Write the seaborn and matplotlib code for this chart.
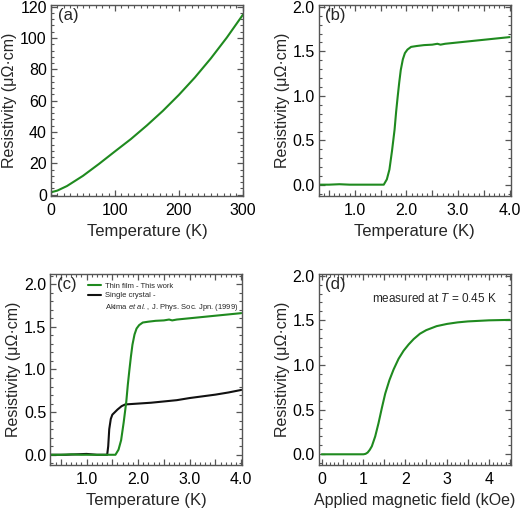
import numpy as np
import pandas as pd
import matplotlib
matplotlib.use("Agg")
import matplotlib.pyplot as plt
import seaborn as sns
from matplotlib.ticker import MultipleLocator, FuncFormatter
from matplotlib.lines import Line2D

# ---------------- data ----------------
# (a) resistivity vs temperature, 0-300 K
T_a = [0, 10, 25, 50, 75, 100, 125, 150, 175, 200, 225, 250, 275, 300]
rho_a = [1.5, 2.6, 5.5, 12.0, 19.6, 27.6, 35.5, 44.2, 53.5, 63.7, 74.8, 87.0, 100.3, 114.8]

# (b)/(c) thin film, low temperature
T_film = [0.3, 0.5, 0.7, 0.9, 1.1, 1.3, 1.5, 1.56, 1.62, 1.67, 1.72, 1.77, 1.80,
          1.83, 1.86, 1.89, 1.93, 1.97, 2.02, 2.09, 2.2, 2.34, 2.5, 2.6, 2.66,
          2.75, 3.0, 3.25, 3.5, 3.75, 4.0]
rho_film = [0.0, 0.0, 0.005, 0.0, 0.0, 0.0, 0.0, 0.0, 0.06, 0.17, 0.38, 0.62, 0.82,
            0.99, 1.15, 1.29, 1.41, 1.48, 1.52, 1.55, 1.56, 1.57, 1.575, 1.585, 1.575,
            1.585, 1.60, 1.615, 1.63, 1.645, 1.66]

# (c) single crystal (Akima et al.)
T_xtal = [0.3, 0.6, 0.8, 1.0, 1.2, 1.4, 1.42, 1.44, 1.47, 1.5, 1.55, 1.6, 1.68,
          1.75, 2.0, 2.25, 2.5, 2.75, 3.0, 3.25, 3.5, 3.75, 4.0]
rho_xtal = [0.0, 0.0, 0.005, 0.01, 0.0, 0.0, 0.1, 0.3, 0.42, 0.47, 0.5, 0.53, 0.57,
            0.59, 0.60, 0.61, 0.625, 0.64, 0.665, 0.685, 0.705, 0.73, 0.76]

# (d) resistivity vs applied field at 0.45 K
H_d = [0.0, 0.5, 1.0, 1.05, 1.1, 1.15, 1.2, 1.28, 1.36, 1.44, 1.52, 1.62, 1.72,
       1.84, 1.96, 2.08, 2.2, 2.35, 2.5, 2.75, 3.0, 3.25, 3.5, 4.0, 4.5]
rho_d = [0.0, 0.0, 0.0, 0.005, 0.02, 0.05, 0.09, 0.2, 0.35, 0.52, 0.68, 0.83, 0.95,
         1.07, 1.16, 1.23, 1.29, 1.35, 1.39, 1.435, 1.46, 1.477, 1.488, 1.50, 1.505]

panel_tags = ["(a)", "(b)", "(c)", "(d)"]
ylabel = "Resistivity (μΩ·cm)"
legend_labels = ["Thin film - This work", "Single crystal -",
                 r"Akima $et\ al.,$ J. Phys. Soc. Jpn. (1999)"]

GREEN = "#1f8a1f"
BLACK = "#111111"
SPINE = "#555555"

# ---------------- style ----------------
sns.set_theme(style="ticks")
plt.rcParams["font.family"] = ["Liberation Sans", "DejaVu Sans"]
plt.rcParams["mathtext.fontset"] = "custom"
plt.rcParams["mathtext.rm"] = "Liberation Sans"
plt.rcParams["mathtext.it"] = "Liberation Sans:italic"

fig = plt.figure(figsize=(5.2, 5.11), dpi=100)
W, H = 0.369, 0.374
ax_a = fig.add_axes([0.098, 0.616, W, H])
ax_b = fig.add_axes([0.613, 0.616, W, H])
ax_c = fig.add_axes([0.097, 0.090, W, H])
ax_d = fig.add_axes([0.613, 0.090, W, H])

df_a = pd.DataFrame({"T": T_a, "rho": rho_a})
df_f = pd.DataFrame({"T": T_film, "rho": rho_film})
df_x = pd.DataFrame({"T": T_xtal, "rho": rho_xtal})
df_d = pd.DataFrame({"H": H_d, "rho": rho_d})

LW = 1.5
sns.lineplot(data=df_a, x="T", y="rho", ax=ax_a, color=GREEN, lw=LW, estimator=None, sort=False)
sns.lineplot(data=df_f, x="T", y="rho", ax=ax_b, color=GREEN, lw=LW, estimator=None, sort=False)
sns.lineplot(data=df_x, x="T", y="rho", ax=ax_c, color=BLACK, lw=LW, estimator=None, sort=False)
sns.lineplot(data=df_f, x="T", y="rho", ax=ax_c, color=GREEN, lw=LW, estimator=None, sort=False)
sns.lineplot(data=df_d, x="H", y="rho", ax=ax_d, color=GREEN, lw=LW, estimator=None, sort=False)

TICK_FS = 11.5
XL_FS = 12
YL_FS = 11.5

def style(ax):
    for s in ax.spines.values():
        s.set_visible(True)
        s.set_color(SPINE)
        s.set_linewidth(1.0)
    ax.tick_params(which="both", direction="in", top=True, right=True,
                   color=SPINE, labelsize=TICK_FS, labelcolor="black")
    ax.tick_params(which="major", length=4.5, width=0.9)
    ax.tick_params(which="minor", length=2.5, width=0.8)
    ax.tick_params(axis="x", pad=5)
    ax.tick_params(axis="y", pad=3)
    ax.set_ylabel(ylabel, fontsize=YL_FS, labelpad=2)

def int_label(fmt):
    def f(v, p):
        if abs(v - round(v)) < 1e-6:
            return fmt.format(v)
        return ""
    return FuncFormatter(f)

# (a)
ax_a.set_xlim(0, 300)
ax_a.set_ylim(-1, 121)
ax_a.xaxis.set_major_locator(MultipleLocator(100))
ax_a.xaxis.set_minor_locator(MultipleLocator(10))
ax_a.yaxis.set_major_locator(MultipleLocator(20))
ax_a.yaxis.set_minor_locator(MultipleLocator(4))
style(ax_a)
ax_a.set_xlabel("Temperature (K)", fontsize=XL_FS)

# (b), (c)
for ax, ylim in ((ax_b, (-0.13, 2.02)), (ax_c, (-0.12, 2.12))):
    ax.set_xlim(0.3, 4.02)
    ax.set_ylim(*ylim)
    ax.xaxis.set_major_locator(MultipleLocator(0.5))
    ax.xaxis.set_minor_locator(MultipleLocator(0.1))
    ax.xaxis.set_major_formatter(int_label("{:.1f}"))
    ax.yaxis.set_major_locator(MultipleLocator(0.5))
    ax.yaxis.set_minor_locator(MultipleLocator(0.1))
    ax.yaxis.set_major_formatter(FuncFormatter(lambda v, p: f"{v:.1f}"))
    style(ax)
    ax.set_xlabel("Temperature (K)", fontsize=XL_FS)

# (d)
ax_d.set_xlim(-0.07, 4.52)
ax_d.set_ylim(-0.12, 2.02)
ax_d.xaxis.set_major_locator(MultipleLocator(0.5))
ax_d.xaxis.set_minor_locator(MultipleLocator(0.1))
ax_d.xaxis.set_major_formatter(int_label("{:.0f}"))
ax_d.yaxis.set_major_locator(MultipleLocator(0.5))
ax_d.yaxis.set_minor_locator(MultipleLocator(0.1))
ax_d.yaxis.set_major_formatter(FuncFormatter(lambda v, p: f"{v:.1f}"))
style(ax_d)
ax_d.set_xlabel("Applied magnetic field (kOe)", fontsize=11.5)
ax_d.text(0.93, 0.87, r"measured at $T$ = 0.45 K", transform=ax_d.transAxes,
          ha="right", va="center", fontsize=8.5)

# panel tags
for ax, tag in zip((ax_a, ax_b, ax_c, ax_d), panel_tags):
    ax.text(0.035, 0.985, tag, transform=ax.transAxes, ha="left", va="top", fontsize=12)

# legend in (c)
handles = [Line2D([], [], color=GREEN, lw=LW),
           Line2D([], [], color=BLACK, lw=LW),
           Line2D([], [], color="none", lw=LW)]
ax_c.legend(handles, legend_labels, loc="upper left", bbox_to_anchor=(0.195, 0.955),
            frameon=False, fontsize=5.5, handlelength=1.7, handletextpad=0.6,
            labelspacing=0.3, borderpad=0.0, borderaxespad=0.0)

fig.savefig("out.png", dpi=100)
